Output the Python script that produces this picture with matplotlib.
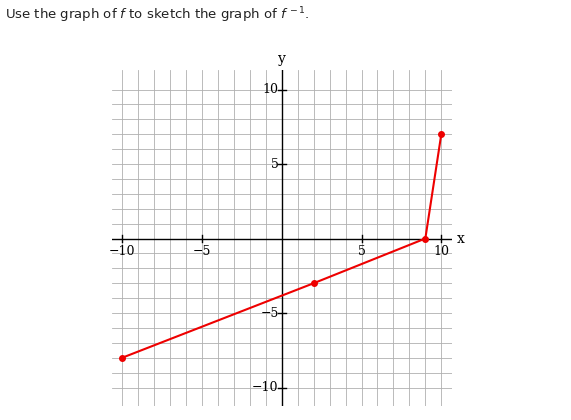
import matplotlib
matplotlib.use("Agg")
import matplotlib.pyplot as plt
import numpy as np

xs = [-10, 2, 9, 10]
ys = [-8, -3, 0, 7]
ticks = [-10, -5, 5, 10]
tick_labels = ["\u221210", "\u22125", "5", "10"]

fig = plt.figure(figsize=(5.71, 4.2), dpi=100)
fig.text(0.008, 0.955, "Use the graph of $f$ to sketch the graph of $f^{\\,-1}$.", fontsize=9.5,
         family="DejaVu Sans", color="#222222")
ax = fig.add_axes([0.196, 0.033, 0.595, 0.80])
ax.set_xlim(-10.65, 10.65)
ax.set_ylim(-11.25, 11.3)
for v in np.arange(-10, 11, 1):
    ax.axvline(v, color="#b0b0b0", lw=0.6, zorder=0)
    ax.axhline(v, color="#b0b0b0", lw=0.6, zorder=0)
for s in ["top", "right"]:
    ax.spines[s].set_visible(False)
ax.spines["left"].set_position(("data", 0))
ax.spines["bottom"].set_position(("data", 0))
ax.spines["left"].set_visible(False)
ax.spines["bottom"].set_visible(False)
ax.axhline(0, color="black", lw=1, zorder=1)
ax.axvline(0, color="black", lw=1, zorder=1)
ax.set_xticks([])
ax.set_yticks([])
for t, l in zip(ticks, tick_labels):
    ax.plot([t, t], [-0.25, 0.25], color="black", lw=1)
    ax.plot([-0.25, 0.25], [t, t], color="black", lw=1)
    ax.text(t, -0.45, l, ha="center", va="top", family="DejaVu Serif", fontsize=9)
    ax.text(-0.2, t, l, ha="right", va="center", family="DejaVu Serif", fontsize=9)
ax.text(10.95, 0, "x", ha="left", va="center", family="DejaVu Serif", fontsize=10, clip_on=False)
ax.text(0, 11.55, "y", ha="center", va="bottom", family="DejaVu Serif", fontsize=10, clip_on=False)
ax.plot(xs, ys, color="#ee0000", lw=1.5, marker="o", ms=4, zorder=3, clip_on=False)
fig.savefig("out.png", dpi=100)
